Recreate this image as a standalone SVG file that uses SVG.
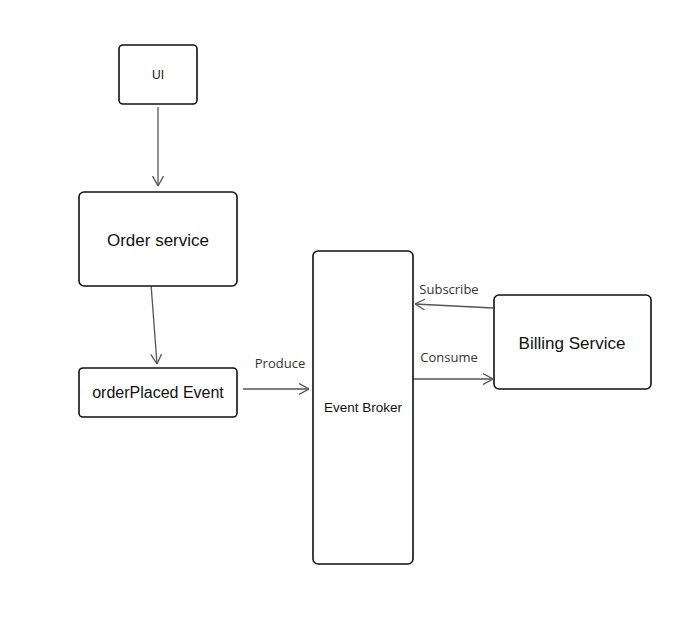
<svg xmlns="http://www.w3.org/2000/svg" width="698" height="620" viewBox="0 0 698 620">
<style>
.box{fill:#fff;stroke:#111;stroke-width:1.6}
.t{font-family:"Liberation Sans",Arial,sans-serif;fill:#111;text-anchor:middle}
.lbl{font-family:"Open Sans","Noto Sans",sans-serif;font-size:13px;fill:#333;text-anchor:middle}
.c{stroke:#555;stroke-width:1.3;fill:none;marker-end:url(#ah)}
</style>
<defs>
<marker id="ah" viewBox="0 0 10 12" refX="10" refY="6" markerWidth="10" markerHeight="12" markerUnits="userSpaceOnUse" orient="auto">
<path d="M0,0.5 L10,6 L0,11.5" fill="none" stroke="#555" stroke-width="1.3"/>
</marker>
</defs>
<rect width="698" height="620" fill="#fff"/>
<g id="connectors">
<line class="c" x1="158" y1="107" x2="158" y2="186"/>
<line class="c" x1="151" y1="284" x2="157" y2="364"/>
<line class="c" x1="243" y1="389" x2="309" y2="389"/>
<line class="c" x1="493" y1="308" x2="415" y2="304"/>
<line class="c" x1="411" y1="379" x2="493" y2="379"/>
<text class="lbl" x="280" y="368">Produce</text>
<text class="lbl" x="449" y="294">Subscribe</text>
<text class="lbl" x="449" y="362">Consume</text>
</g>
<g id="ui">
<rect class="box" x="119" y="45" width="78" height="59" rx="4"/>
<text class="t" x="158" y="79" font-size="12">UI</text>
</g>
<g id="order-service">
<rect class="box" x="79" y="192" width="158" height="94" rx="5"/>
<text class="t" x="158" y="246" font-size="17">Order service</text>
</g>
<g id="order-placed-event">
<rect class="box" x="79" y="368" width="158" height="49" rx="4"/>
<text class="t" x="158" y="398" font-size="16">orderPlaced Event</text>
</g>
<g id="event-broker">
<rect class="box" x="313" y="251" width="100" height="313" rx="5"/>
<text class="t" x="363" y="412" font-size="13.5">Event Broker</text>
</g>
<g id="billing-service">
<rect class="box" x="494" y="295" width="157" height="94" rx="5"/>
<text class="t" x="572" y="349" font-size="17">Billing Service</text>
</g>
</svg>
